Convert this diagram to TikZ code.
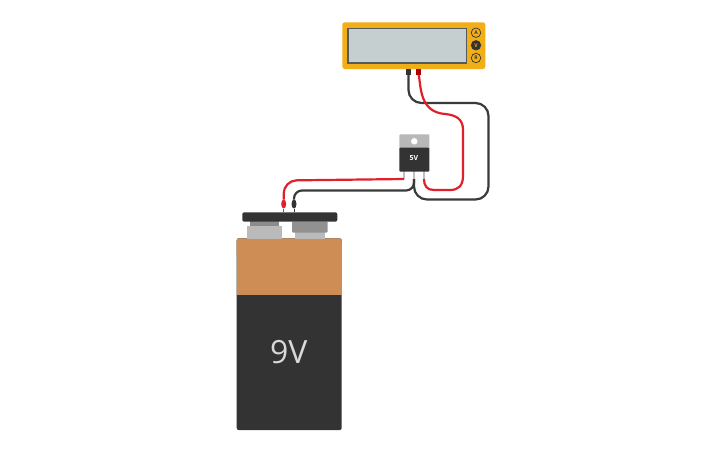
\documentclass[tikz,border=0pt]{standalone}
\usepackage{fontspec}
\setmainfont{Open Sans}
\usetikzlibrary{calc}
\usetikzlibrary{shapes.geometric}
\definecolor{meterbody}{HTML}{F2AE17}
\definecolor{meterscreen}{HTML}{C5CFD0}
\definecolor{meteredge}{HTML}{525A5C}
\definecolor{darkbody}{HTML}{333333}
\definecolor{wirered}{HTML}{E0202A}
\definecolor{wireblack}{HTML}{3A3A3A}
\definecolor{battorange}{HTML}{CE8D55}
\tikzset{
    block/.style={inner sep=0pt,outer sep=0pt,anchor=north west},
    wire/.style={line width=2.2pt,rounded corners=13pt},
    pin/.style={fill=black!25,inner sep=0pt,outer sep=0pt,minimum width=2.4pt,minimum height=8pt,anchor=north},
    probe/.style={inner sep=0pt,outer sep=0pt,minimum width=5pt,minimum height=6pt,anchor=north},
    knob/.style={circle,draw=darkbody,line width=0.7pt,minimum size=9.5pt,inner sep=0pt,font=\fontsize{5}{5}\selectfont\bfseries,text=darkbody},
    clipnode/.style={ellipse,inner sep=0pt,outer sep=0pt,minimum width=5pt,minimum height=9pt}
}
\begin{document}
\begin{tikzpicture}[x=1pt,y=-1pt]
    \useasboundingbox (0,0) rectangle (725,453);
    % multimeter
    \node[block,fill=meterbody,rounded corners=2.5pt,minimum width=143pt,minimum height=46.7pt] (meter) at (342.3,22.3) {};
    \node[block,fill=meterscreen,draw=meteredge,line width=1.5pt,minimum width=118.5pt,minimum height=34.5pt] (screen) at (348,28.4) {};
    \node[knob] (knoba) at (476,32.7) {A};
    \node[knob,fill=darkbody,text=meterbody] (knobv) at (476,45.3) {V};
    \node[knob] (knobr) at (476,58) {R};
    \node[probe,fill=darkbody] (probeb) at (408.5,69) {};
    \node[probe,fill=red!70!black] (prober) at (418.8,69) {};
    % regulator
    \node[pin] (pinl) at (404,171) {};
    \node[pin] (ping) at (414,171) {};
    \node[pin] (pinr) at (424,171) {};
    \node[block,fill=black!28,rounded corners=1pt,minimum width=30pt,minimum height=16pt] (tab) at (399.3,134.3) {};
    \node[block,fill=darkbody,rounded corners=1pt,minimum width=30pt,minimum height=24pt] (reg) at (399.3,147.7) {};
    \node[circle,fill=white,minimum size=6.5pt,inner sep=0pt] (hole) at (414.3,141.3) {};
    \node[text=white,font=\fontsize{7}{7}\selectfont\bfseries] (reglabel) at (414,158.5) {5V};
    % battery
    \node[block,fill=darkbody,rounded corners=2pt,minimum width=105pt,minimum height=191.7pt] (batt) at (236.7,238.3) {};
    \node[block,fill=battorange,rounded corners=2pt,minimum width=105pt,minimum height=20pt] (batttop) at (236.7,238.3) {};
    \node[block,fill=battorange,minimum width=105pt,minimum height=51.7pt] (battband) at (236.7,243.3) {};
    \node[block,fill=black!45,minimum width=29.3pt,minimum height=5pt] (neckl) at (250,221) {};
    \node[block,fill=black!27,minimum width=35pt,minimum height=13.5pt] (terml) at (247.3,225.7) {};
    \node[block,fill=black!27,minimum width=30pt,minimum height=8pt] (neckr) at (295,231) {};
    \node[block,fill=black!43,rounded corners=1pt,minimum width=35.7pt,minimum height=11pt] (termr) at (292,221.5) {};
    \node[block,fill=darkbody,rounded corners=2pt,minimum width=95pt,minimum height=9.4pt] (cap) at (242.3,212.3) {};
    \node[text=black!15,font=\fontsize{32}{32}\selectfont] (battlabel) at (288.7,352.5) {9V};
    \node[clipnode,fill=wirered] (clipr) at (283.7,204) {};
    \node[clipnode,fill=darkbody] (clipb) at (294,204) {};
    \draw[line width=1pt,wirered] (clipr) -- (clipr |- cap.north);
    \draw[line width=1pt,darkbody] (clipb) -- (clipb |- cap.north);
    % wires
    \draw[wire,wireblack] (probeb.south) -- (408.5,103) -- (488.5,103) -- (488.5,199.5) -- (414,199.5) -- (ping.south);
    \draw[wire,wireblack,rounded corners=8pt] (ping.south) -- (414,190.5) -- (294,190.5) -- (clipb.north);
    \draw[wire,wirered,sharp corners] (prober.south) .. controls (421,88) and (420,112) .. (445,114) .. controls (456,115) and (463,119) .. (463,130) -- (463,176) .. controls (463,186) and (458,190) .. (450,190) -- (434,190) .. controls (427,190) and (424,186) .. (pinr.south);
    \draw[wire,wirered] (pinl.south) -- (283.7,180.5) -- (clipr.north);
\end{tikzpicture}
\end{document}
